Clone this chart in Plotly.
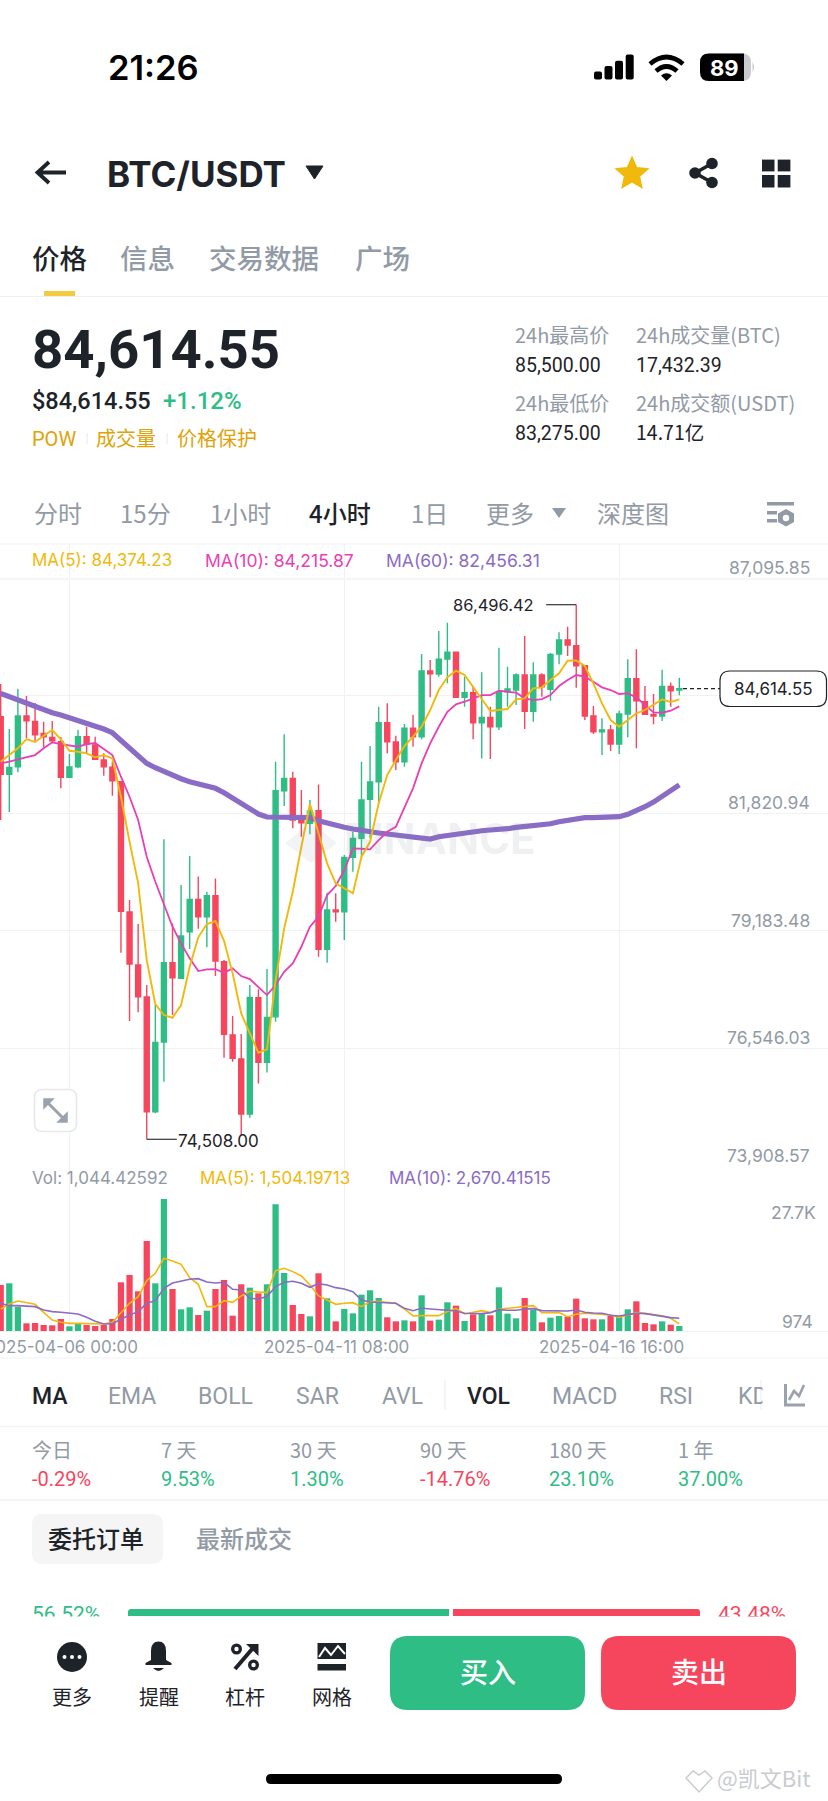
import math
import pandas as pd
import plotly.graph_objects as go

first_time = "2025-04-04 16:00"
candle_hours = 4

opens = [83984, 82692, 82863, 84000, 83881, 83612, 83522, 83424, 82625, 82863,
         83536, 83350, 83013, 82851, 82527, 79604, 78415, 77698, 75125, 76688,
         78466, 78117, 79162, 79889, 79499, 79969, 78489, 76846, 76308, 75073,
         77682, 76233, 77254, 82325, 82603, 81667, 81593, 81876, 78767, 79649,
         79611, 80831, 81257, 82132, 82527, 83851, 83417, 82975, 83725, 83536,
         85010, 84943, 85279, 85430, 84420, 84523, 83851, 83971, 83760, 84546,
         84583, 84920, 84106, 84920, 84599, 85391, 85705, 85578, 85129, 84000,
         83648, 83686, 83372, 84045, 84837, 84321, 84038, 84000, 84664, 84583]
highs = [84718, 83709, 84612, 84449, 84292, 83872, 83888, 83531, 83148, 83686,
         83760, 83536, 83163, 82975, 82542, 79873, 79335, 77967, 77518, 81235,
         79350, 80210, 80860, 80400, 80059, 80359, 78527, 77271, 76867, 77967,
         77870, 78325, 82975, 83590, 82751, 82340, 82116, 82466, 80037, 80023,
         80883, 81405, 82975, 83327, 84209, 84285, 83560, 83821, 84023, 85391,
         85257, 85907, 86093, 85430, 84882, 84673, 84980, 84209, 85533, 85106,
         84957, 85795, 85205, 84957, 85413, 85878, 86003, 86496.42, 85129, 84224,
         83949, 83798, 84119, 85272, 85497, 84673, 84494, 85039, 84754, 84859]
lows = [81667, 81847, 82737, 83507, 83424, 83298, 83388, 82378, 82625, 82827,
        83163, 83029, 82661, 82212, 78691, 77159, 77354, 74508, 75089, 75798,
        77294, 78117, 78774, 79231, 78812, 78168, 76337, 76246, 74602, 74992,
        75761, 76008, 77142, 81981, 81481, 81293, 81347, 78601, 78466, 79386,
        78976, 80508, 80845, 81257, 82026, 83163, 82789, 82863, 83311, 83477,
        84420, 84882, 84733, 84404, 84209, 83477, 83050, 83035, 83686, 84209,
        84247, 83709, 83872, 84433, 84343, 85159, 85346, 84636, 83911, 83596,
        83125, 83215, 83148, 83522, 83276, 84038, 83815, 83886, 84209, 84464]
closes = [82692, 82849, 84000, 83895, 83581, 83536, 83446, 82625, 82856, 83536,
          83372, 83029, 82863, 82549, 79620, 78437, 77704, 75125, 76682, 78466,
          78130, 79066, 79889, 79499, 79969, 78504, 76860, 76323, 75073, 77691,
          76233, 77242, 82325, 82603, 81667, 81606, 81869, 78767, 79649, 79611,
          80831, 81257, 82116, 82520, 83851, 83424, 82975, 83725, 83536, 85010,
          84950, 85272, 85430, 84420, 84523, 83851, 83971, 83760, 84546, 84606,
          84920, 84106, 84920, 84658, 85384, 85705, 85593, 85129, 84000, 83648,
          83686, 83372, 84045, 84837, 84343, 84038, 84000, 84664, 84568, 84614.55]
ma5 = [82975, 83125, 83276, 83484, 83417, 83558, 83686, 83477, 83222, 83199,
       83163, 83074, 83125, 83051, 82190, 81179, 80254, 78527, 77540, 77294,
       77233, 77518, 78377, 79037, 79335, 79402, 78960, 78229, 77332, 76883,
       76448, 76524, 78079, 79239, 80059, 81069, 82026, 81369, 80696, 80247,
       80135, 80023, 80845, 81179, 82042, 82677, 83013, 83327, 83536, 83760,
       84135, 84583, 84868, 85016, 84920, 84657, 84397, 84112, 84135, 84157,
       84375, 84397, 84621, 84644, 84808, 84958, 85240, 85249, 85122, 84734,
       84285, 83910, 83760, 83910, 84061, 84135, 84247, 84375, 84314, 84374.23]
ma10 = [82939, 82975, 83029, 83074, 83125, 83276, 83410, 83372, 83350, 83312,
        83372, 83395, 83260, 83125, 82639, 82190, 81667, 80845, 80284, 79799,
        79275, 78902, 78566, 78281, 78319, 78325, 78242, 78341, 78168, 78101,
        77915, 77742, 77967, 78265, 78453, 78825, 79275, 79499, 79986, 80188,
        80547, 81033, 81024, 81011, 81219, 81405, 81517, 81966, 82379, 82939,
        83388, 83760, 84097, 84263, 84321, 84397, 84471, 84471, 84568, 84545,
        84523, 84397, 84359, 84381, 84471, 84673, 84808, 84920, 84882, 84770,
        84644, 84583, 84494, 84509, 84420, 84247, 84083, 84074, 84119, 84215.87]
ma60 = [84508, 84432, 84359, 84292, 84231, 84157, 84074, 84023, 83962, 83900,
        83837, 83776, 83709, 83626, 83462, 83298, 83125, 82939, 82840, 82751,
        82677, 82594, 82527, 82469, 82430, 82379, 82280, 82154, 82026, 81914,
        81802, 81735, 81728, 81735, 81742, 81735, 81720, 81652, 81594, 81540,
        81504, 81466, 81428, 81399, 81376, 81354, 81331, 81316, 81286, 81248,
        81242, 81293, 81325, 81347, 81376, 81399, 81428, 81444, 81451, 81473,
        81504, 81527, 81534, 81549, 81585, 81630, 81667, 81706, 81720, 81720,
        81728, 81735, 81742, 81796, 81876, 81966, 82071, 82206, 82340, 82456.31]
volumes = [9660, 10010, 5110, 1610, 1680, 1260, 1190, 2520, 980, 1470,
           1260, 1050, 1260, 2520, 10220, 11760, 8330, 18900, 10010, 27720,
           8820, 4550, 4970, 3360, 4270, 8820, 10710, 3220, 9800, 9100,
           7910, 9800, 26600, 12180, 5460, 3570, 3080, 12110, 6860, 2030,
           4620, 3710, 7630, 8540, 6930, 2870, 2030, 2240, 2030, 7490,
           2170, 2380, 6020, 5320, 2100, 3500, 3570, 3290, 9170, 3640,
           2660, 6930, 4410, 1820, 2800, 3150, 3010, 6790, 2660, 2450,
           2450, 3150, 3010, 4550, 6230, 1680, 1400, 2030, 1330, 1044.43]
vol_ma5 = [4620, 5670, 6300, 5950, 5600, 3920, 2310, 1820, 1610, 1610,
           1540, 1470, 1470, 1820, 3710, 5810, 7210, 10570, 12110, 15260,
           14700, 14000, 11200, 9800, 5110, 5110, 6370, 6020, 7350, 8330,
           8190, 8050, 12670, 13160, 12460, 11550, 9660, 7350, 6510, 5600,
           5810, 5950, 5110, 6160, 6160, 6020, 5810, 4620, 3150, 3220,
           3220, 3220, 4060, 4760, 3570, 3920, 4270, 3850, 4550, 4760,
           4970, 5250, 5320, 3850, 3850, 3850, 3010, 3500, 3710, 3570,
           3570, 3360, 2870, 3290, 3850, 3710, 3500, 3220, 2660, 1504.20]
vol_ma10 = [5810, 5320, 5320, 5250, 5110, 4410, 4060, 3920, 3780, 3570,
            2870, 2030, 1470, 1540, 2450, 3360, 4060, 5810, 6370, 8960,
            10080, 10500, 10850, 10990, 10290, 10080, 10220, 8750, 8610, 6860,
            6720, 7210, 9310, 10220, 10430, 10010, 9170, 9940, 9660, 9100,
            8820, 8260, 6510, 6090, 5950, 5950, 5810, 4760, 4270, 4760,
            4620, 4480, 4340, 4200, 3710, 3640, 3640, 3850, 4480, 4340,
            4340, 4620, 4690, 4270, 4270, 4200, 4200, 4410, 3920, 3780,
            3710, 3290, 3150, 3430, 3710, 3640, 3360, 3010, 2800, 2670.42]

price_ticks = [87095.85, 84458.39, 81820.94, 79183.48, 76546.03, 73908.57]
price_tick_labels = ["87,095.85", "", "81,820.94", "79,183.48", "76,546.03", "73,908.57"]
date_tick_index = [8, 40, 72]
date_tick_labels = ["2025-04-06 00:00", "2025-04-11 08:00", "2025-04-16 16:00"]

GREEN = "#2EBD85"
RED = "#F6465D"
DARK = "#1E2329"
GRAY = "#929AA5"
GOLD = "#F0B90B"
PINK = "#E83FB4"
PURPLE = "#8A6BC5"
GRID = "#F0F1F3"
NUM = "Roboto, 'Noto Sans CJK SC'"
WIDE = "Inter, 'Noto Sans CJK SC'"
CJK = "'Noto Sans CJK SC', Roboto"

W, H = 828, 1801
times = pd.date_range(first_time, periods=len(closes), freq=f"{candle_hours}h")
px_per_candle = 8.59
hour = pd.Timedelta(hours=1)
x_start = times[0] - (0.7 / px_per_candle) * candle_hours * hour
x_end = x_start + (W / px_per_candle) * candle_hours * hour
px_per_price = (1166 - 578) / (price_ticks[0] - price_ticks[-1])
price_top = price_ticks[0] + (578 - 544) / px_per_price
vol_top = 27700 / 132 * (1331 - 1167)

fig = go.Figure()
fig.add_trace(go.Candlestick(
    x=times, open=opens, high=highs, low=lows, close=closes,
    increasing=dict(line=dict(color=GREEN, width=1.4), fillcolor=GREEN),
    decreasing=dict(line=dict(color=RED, width=1.4), fillcolor=RED),
    whiskerwidth=0, xaxis="x", yaxis="y", showlegend=False,
))
fig.add_trace(go.Scatter(x=times, y=ma60, mode="lines", line=dict(color=PURPLE, width=5.2), showlegend=False))
fig.add_trace(go.Scatter(x=times, y=ma10, mode="lines", line=dict(color=PINK, width=1.8), showlegend=False))
fig.add_trace(go.Scatter(x=times, y=ma5, mode="lines", line=dict(color=GOLD, width=1.9), showlegend=False))

bar_colors = [GREEN if c >= o else RED for o, c in zip(opens, closes)]
fig.add_trace(go.Bar(x=times, y=volumes, marker=dict(color=bar_colors, line=dict(width=0)),
                     xaxis="x2", yaxis="y2", showlegend=False))
fig.add_trace(go.Scatter(x=times, y=vol_ma5, mode="lines", line=dict(color=GOLD, width=1.6),
                         xaxis="x2", yaxis="y2", showlegend=False))
fig.add_trace(go.Scatter(x=times, y=vol_ma10, mode="lines", line=dict(color=PURPLE, width=1.6),
                         xaxis="x2", yaxis="y2", showlegend=False))
# empty trace so the full-page pixel axes stay alive for the app chrome
fig.add_trace(go.Scatter(x=[], y=[], xaxis="x3", yaxis="y3", showlegend=False))

shapes = []
notes = []


def label(x, y, text, size, color=DARK, anchor="left", weight=400, family=CJK):
    if anchor == "left":
        x -= 1.5
    if family == CJK:
        y -= size * 0.07
    notes.append(dict(xref="x3", yref="y3", x=x, y=y, text=text, showarrow=False, xanchor=anchor,
                      yanchor="middle", borderpad=0, font=dict(size=size, color=color, family=family, weight=weight)))


def rect(x0, y0, x1, y1, color):
    shapes.append(dict(type="rect", xref="x3", yref="y3", x0=x0, y0=y0, x1=x1, y1=y1,
                       fillcolor=color, line=dict(width=0)))


def hline(x0, x1, y, color=GRID, width=1.0):
    shapes.append(dict(type="line", xref="x3", yref="y3", x0=x0, x1=x1, y0=y, y1=y,
                       line=dict(color=color, width=width)))


def path(d, fill=None, color=None, width=0):
    shapes.append(dict(type="path", xref="x3", yref="y3", path=d, fillcolor=fill or "rgba(0,0,0,0)",
                       line=dict(color=color or "rgba(0,0,0,0)", width=width)))


def circle(cx, cy, r, fill=DARK):
    shapes.append(dict(type="circle", xref="x3", yref="y3", x0=cx - r, x1=cx + r, y0=cy - r, y1=cy + r,
                       fillcolor=fill, line=dict(width=0)))


def rounded(x0, y0, x1, y1, r):
    return (f"M{x0 + r},{y0} L{x1 - r},{y0} Q{x1},{y0} {x1},{y0 + r} L{x1},{y1 - r} Q{x1},{y1} {x1 - r},{y1} "
            f"L{x0 + r},{y1} Q{x0},{y1} {x0},{y1 - r} L{x0},{y0 + r} Q{x0},{y0} {x0 + r},{y0} Z")


# status bar
label(108, 67.5, "21:26", 34.5, "#000000", weight=600, family="Inter")
for x0, top in zip([594, 604.5, 615, 625.7], [71.4, 66, 60.7, 54.6]):
    path(rounded(x0, top, x0 + 8, 79.5, 2), fill="#000000")
path("M650,64 Q666.5,50 683,64", color="#000000", width=4.6)
path("M656,71 Q666.5,62 677,71", color="#000000", width=4.6)
path("M661,75.5 Q666.5,71 672,75.5 L666.5,81 Z", fill="#000000")
path(rounded(700, 53.5, 751, 81, 9), fill="#C9CBCF")
path("M709,53.5 L744,53.5 L744,81 L709,81 Q700,81 700,72 L700,62.5 Q700,53.5 709,53.5 Z", fill="#000000")
path("M752.5,62 Q755.5,67 752.5,72 Z", fill="#C9CBCF")
label(724, 67.5, "89", 22, "#FFFFFF", "center", 700, "Inter")

# header
path("M66,172.5 L38,172.5 M49,162 L37.5,172.5 L49,183", color=DARK, width=3.8)
label(107, 173.5, "BTC/USDT", 35, DARK, weight=700, family="Inter")
path("M306,166 L323,166 L314.5,179 Z", fill=DARK, color=DARK, width=1)
star_pts = []
for k in range(10):
    radius = 16 if k % 2 == 0 else 7.5
    angle = -math.pi / 2 + k * math.pi / 5
    star_pts.append((632 + radius * math.cos(angle), 174 + radius * math.sin(angle)))
path("M" + " L".join(f"{a:.1f},{b:.1f}" for a, b in star_pts) + " Z", fill=GOLD, color=GOLD, width=2)
path("M712,163.5 L695,173 L712,182.5", color=DARK, width=3.5)
circle(712, 163.5, 5.8)
circle(695, 173, 5.8)
circle(712, 182.5, 5.8)
for xa, xb in [(762, 774.5), (777.7, 790.4)]:
    for ya, yb in [(159.6, 171.4), (175, 187.5)]:
        rect(xa, ya, xb, yb, DARK)

# tabs
label(32, 259, "价格", 27.5, DARK, weight=500)
label(120, 259, "信息", 27.5, GRAY, weight=500)
label(209, 259, "交易数据", 27.5, GRAY, weight=500)
label(355, 259, "广场", 27.5, GRAY, weight=500)
rect(44, 291, 75, 296, "#F3CB3F")
hline(0, W, 296.5, "#EDEEF0", 1.2)

# price block
label(32, 349, "84,614.55", 54.5, DARK, weight=700, family=NUM)
label(32, 400.5, "$84,614.55", 23.5, DARK, weight=500, family=NUM)
label(163, 400.5, "+1.12%", 24, GREEN, weight=500, family=NUM)
label(32, 438.5, "POW", 20, "#DFA307", family=NUM)
label(96, 438.5, "成交量", 20, "#DFA307")
label(177, 438.5, "价格保护", 20, "#DFA307")
for x in [87, 167]:
    shapes.append(dict(type="line", xref="x3", yref="y3", x0=x, x1=x, y0=433, y1=444,
                       line=dict(color="#E6E8EA", width=1)))
label(515, 336, "24h最高价", 20, GRAY)
label(515, 365, "85,500.00", 19.5, DARK, family=NUM)
label(636, 336, "24h成交量(BTC)", 20, GRAY)
label(636, 365, "17,432.39", 19.5, DARK, family=NUM)
label(515, 403.5, "24h最低价", 20, GRAY)
label(515, 433, "83,275.00", 19.5, DARK, family=NUM)
label(636, 403.5, "24h成交额(USDT)", 20, GRAY)
label(636, 433, "14.71亿", 19.5, DARK)

# interval row
label(34, 514, "分时", 24, GRAY)
label(120, 514, "15分", 24, GRAY)
label(210, 514, "1小时", 24, GRAY)
label(309, 514, "4小时", 24, DARK, weight=500)
label(411, 514, "1日", 24, GRAY)
label(486, 514, "更多", 24, GRAY)
path("M552,508 L566,508 L559,518 Z", fill=GRAY)
label(597, 514, "深度图", 24, GRAY)
rect(767, 502, 794, 505.5, GRAY)
rect(767, 511, 777, 514.5, GRAY)
rect(767, 519, 777, 522.5, GRAY)
path("M786,509 L794,513.5 L794,522 L786,526.5 L778,522 L778,513.5 Z", fill=GRAY)
circle(786, 518, 3.2, "#FFFFFF")
hline(0, W, 544, GRID, 1.2)

# chart legends
label(32, 560, "MA(5): 84,374.23", 17, GOLD, family=WIDE)
label(205, 560, "MA(10): 84,215.87", 17.5, PINK, family=WIDE)
label(386, 560, "MA(60): 82,456.31", 17.5, PURPLE, family=WIDE)
label(32, 1178, "Vol: 1,044.42592", 17, GRAY, family=WIDE)
label(200, 1178, "MA(5): 1,504.19713", 17, GOLD, family=WIDE)
label(389, 1178, "MA(10): 2,670.41515", 17, PURPLE, family=WIDE)
hline(0, W, 579, "#F5F6F7", 2.5)

# watermark
path("M311,823 L337,843 L311,863 L285,843 Z", fill="rgba(132,142,156,0.10)")
label(344, 838, "BINANCE", 42, "rgba(132,142,156,0.13)", weight=700, family="Inter")

# price scale labels, sitting just above each grid line
for value, text in zip(price_ticks, price_tick_labels):
    if text:
        notes.append(dict(xref="x3", yref="y", x=811, y=value, text=text, showarrow=False, xanchor="right",
                          yanchor="bottom", borderpad=0, yshift=-1,
                          font=dict(size=17.5, color=GRAY, family=WIDE)))
label(817, 1212, "27.7K", 17.5, GRAY, "right", family=WIDE)
label(814, 1321, "974", 17.5, GRAY, "right", family=WIDE)
for i, text in zip(date_tick_index, date_tick_labels):
    notes.append(dict(xref="x2", yref="y3", x=times[i], y=1347, text=text, showarrow=False, xanchor="center",
                      yanchor="middle", borderpad=0, xshift=-8,
                      font=dict(size=17, color=GRAY, family=WIDE)))
hline(0, W, 1358, GRID, 1.2)

# high, low and last price call-outs
top_i = highs.index(max(highs))
low_i = lows.index(min(lows))
shapes.append(dict(type="line", xref="x", yref="y", x0=times[top_i], x1=times[top_i] - 3.5 * candle_hours * hour,
                   y0=highs[top_i], y1=highs[top_i], line=dict(color=DARK, width=1.1)))
notes.append(dict(xref="x", yref="y", x=times[top_i] - 3.5 * candle_hours * hour, y=highs[top_i], xshift=-11,
                  text="86,496.42", showarrow=False, xanchor="right", yanchor="middle", borderpad=0,
                  font=dict(size=16.5, color=DARK, family=WIDE)))
shapes.append(dict(type="line", xref="x", yref="y", x0=times[low_i], x1=times[low_i] + 3.5 * candle_hours * hour,
                   y0=lows[low_i], y1=lows[low_i], line=dict(color=DARK, width=1.1)))
notes.append(dict(xref="x", yref="y", x=times[low_i] + 3.5 * candle_hours * hour, y=lows[low_i], xshift=0, yshift=-2,
                  text="74,508.00", showarrow=False, xanchor="left", yanchor="middle", borderpad=0,
                  font=dict(size=17, color=DARK, family=WIDE)))
shapes.append(dict(type="line", xref="x3", yref="y", x0=683, x1=720, y0=closes[-1], y1=closes[-1],
                   line=dict(color=DARK, width=1.1, dash="4px,3px")))
path(rounded(720, 671, 826.5, 706.5, 10), fill="#FFFFFF", color=DARK, width=1.2)
notes.append(dict(xref="x3", yref="y", x=773, y=closes[-1], text="84,614.55", showarrow=False, xanchor="center",
                  yanchor="middle", borderpad=0, font=dict(size=17, color=DARK, family=WIDE)))

# expand button
path(rounded(34.5, 1089.5, 76.5, 1131.5, 8), fill="#FFFFFF", color="#E6E8EB", width=1.6)
path("M44,1099 L53,1099 L44,1108 Z M67,1122 L58,1122 L67,1113 Z", fill="#9AA2AE", color="#9AA2AE", width=1.5)
path("M47,1102 L64,1119", color="#9AA2AE", width=3)

# indicator row
for x, text, color, weight in [(32, "MA", DARK, 500), (108, "EMA", GRAY, 400), (198, "BOLL", GRAY, 400),
                               (296, "SAR", GRAY, 400), (382, "AVL", GRAY, 400), (467, "VOL", DARK, 500),
                               (552, "MACD", GRAY, 400), (659, "RSI", GRAY, 400), (738, "KD", GRAY, 400)]:
    label(x, 1396, text, 23, color, weight=weight, family=NUM)
notes.append(dict(xref="x3", yref="y3", x=761.5, y=1396, text=" ", showarrow=False, xanchor="left", yanchor="middle",
                  width=10, height=30, bgcolor="#FFFFFF", borderpad=0))
shapes.append(dict(type="line", xref="x3", yref="y3", x0=445, x1=445, y0=1380, y1=1410,
                   line=dict(color="#EDEEF0", width=1.2)))
shapes.append(dict(type="line", xref="x3", yref="y3", x0=761, x1=761, y0=1380, y1=1410,
                   line=dict(color="#EDEEF0", width=1.2)))
path("M785.5,1384 L785.5,1405 L805,1405", color="#9AA2AE", width=3)
path("M789,1400 L794,1391 L799,1396 L804,1385", color="#9AA2AE", width=2.6)
hline(0, W, 1426.5, "#F2F3F5", 1.5)

# period returns
period_x = [32, 161, 290, 420, 549, 678]
period_names = ["今日", "7 天", "30 天", "90 天", "180 天", "1 年"]
period_values = ["-0.29%", "9.53%", "1.30%", "-14.76%", "23.10%", "37.00%"]
for x, name, value in zip(period_x, period_names, period_values):
    label(x, 1450.5, name, 20, GRAY)
    label(x, 1479, value, 20, RED if value.startswith("-") else GREEN, family=NUM)
hline(0, W, 1500, "#EDEEF0", 1.2)

# order book tabs
path(rounded(32, 1514, 163, 1564, 11), fill="#F5F5F5")
label(48, 1539.5, "委托订单", 24, DARK, weight=500)
label(196, 1539.5, "最新成交", 24, GRAY, weight=500)

# buy/sell ratio, cut off by the bottom bar
label(32, 1614, "56.52%", 21, GREEN, family=NUM)
label(718, 1614, "43.48%", 21, RED, family=NUM)
path("M128,1616 L128,1612 Q128,1609 131,1609 L449,1609 L449,1616 Z", fill=GREEN)
path("M453,1616 L453,1609 L697,1609 Q700,1609 700,1612 L700,1616 Z", fill=RED)
notes.append(dict(xref="x3", yref="y3", x=0, y=1615.5, text=" ", showarrow=False, xanchor="left", yanchor="top",
                  width=W, height=14, bgcolor="#FFFFFF", borderpad=0))

# bottom actions
circle(72, 1657, 15)
for x in [64.5, 72, 79.5]:
    circle(x, 1657, 2, "#FFFFFF")
path("M151,1660 L151,1651 Q151,1641.5 158.5,1641.5 Q166,1641.5 166,1651 L166,1660 L171.5,1663 L171.5,1665 "
     "L145.5,1665 L145.5,1663 Z", fill=DARK)
path("M153,1668 L164,1668 Q158.5,1674 153,1668 Z", fill=DARK)
path("M235,1669 L253,1648", color=DARK, width=4)
path("M246,1644 L258.5,1644 L258.5,1656 Z", fill=DARK)
circle(236.5, 1649, 5.5)
circle(236.5, 1649, 2.2, "#FFFFFF")
circle(253.5, 1665, 5.5)
circle(253.5, 1665, 2.2, "#FFFFFF")
rect(317.5, 1643, 346, 1659, DARK)
path("M319,1657 L325,1648 L331,1655 L338,1646 L345,1654", color="#FFFFFF", width=2)
rect(317.5, 1664, 346, 1670.5, DARK)
for x, text in [(72, "更多"), (158.5, "提醒"), (244.5, "杠杆"), (331.5, "网格")]:
    label(x, 1698, text, 20, DARK, "center")
path(rounded(390, 1636, 585, 1710, 18), fill=GREEN)
path(rounded(601, 1636, 796, 1710, 18), fill=RED)
label(487.5, 1673, "买入", 28, "#FFFFFF", "center", 500)
label(698.5, 1673, "卖出", 28, "#FFFFFF", "center", 500)
path(rounded(266, 1774, 562, 1784, 5), fill="#000000")

# corner credit
path("M686,1778 L693,1771 L699,1775 L705,1771 L712,1778 L699,1792 Z", color="#C9CBCF", width=1.5)
label(717, 1779, "@凯文Bit", 22, "#C9CBCF")

axis_off = dict(showticklabels=False, ticks="", showline=False, zeroline=False, fixedrange=True)
date_ticks = [times[i] for i in date_tick_index]
fig.update_layout(
    width=W, height=H, margin=dict(l=0, r=0, t=0, b=0), paper_bgcolor="#FFFFFF", plot_bgcolor="rgba(0,0,0,0)",
    showlegend=False, hovermode=False, boxgap=0.17, bargap=0.27,
    shapes=shapes, annotations=notes,
    xaxis=dict(axis_off, domain=[0, 1], range=[x_start, x_end], type="date", anchor="y", rangeslider=dict(visible=False),
               tickvals=date_ticks, showgrid=True, gridcolor=GRID, gridwidth=1),
    yaxis=dict(axis_off, domain=[1 - 1167 / H, 1 - 544 / H],
               range=[price_ticks[-1] - (1167 - 1166) / px_per_price, price_top], anchor="x",
               tickvals=price_ticks, showgrid=True, gridcolor=GRID, gridwidth=1),
    xaxis2=dict(axis_off, domain=[0, 1], range=[x_start, x_end], type="date", anchor="y2",
                tickvals=date_ticks, showgrid=True, gridcolor=GRID, gridwidth=1),
    yaxis2=dict(axis_off, domain=[1 - 1331 / H, 1 - 1167 / H], range=[0, vol_top], anchor="x2", showgrid=False),
    xaxis3=dict(axis_off, domain=[0, 1], range=[0, W], anchor="y3", visible=False),
    yaxis3=dict(axis_off, domain=[0, 1], range=[H, 0], anchor="x3", visible=False),
)
fig.update_xaxes(showline=False)
fig.layout.xaxis2.showline = True
fig.layout.xaxis2.linecolor = GRID

fig.write_html("out.html", config=dict(displayModeBar=False),
               post_script="document.body.style.margin='0';")
